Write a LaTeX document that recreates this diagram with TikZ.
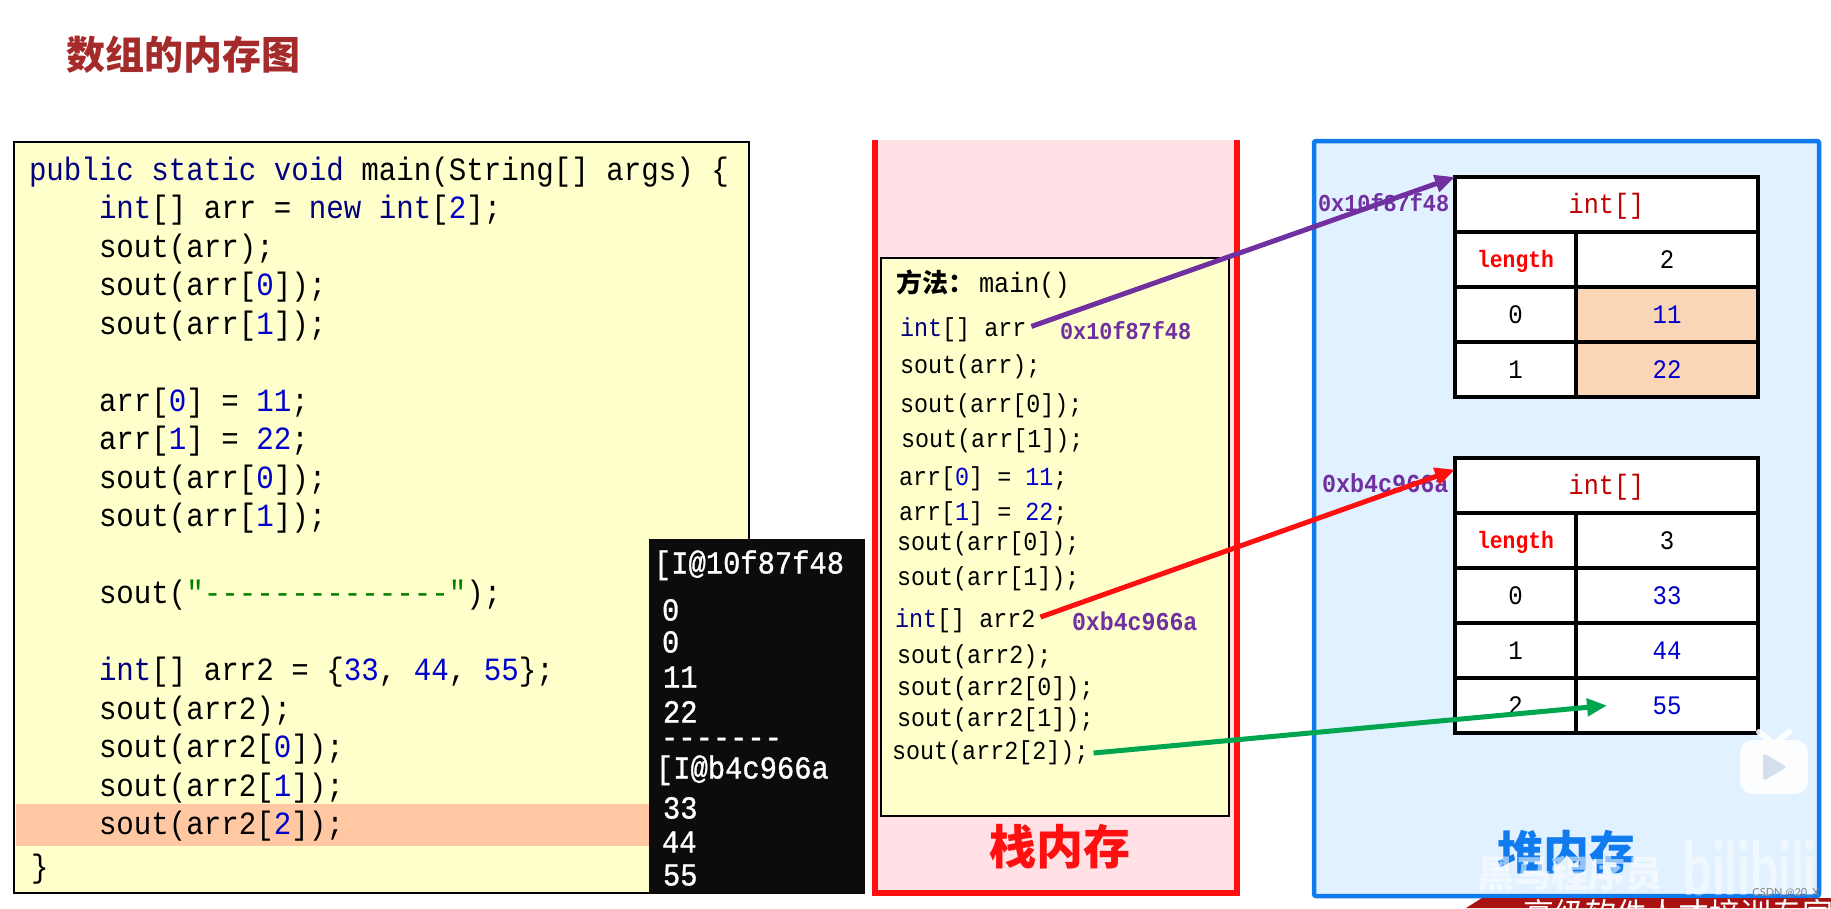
\documentclass[tikz,border=0pt]{standalone}
\usepackage{fontspec}
\usetikzlibrary{positioning}
\usetikzlibrary{arrows.meta}

\newfontfamily\cjkfont{Noto Sans CJK SC}
\newfontfamily\monofont[FakeStretch=0.9]{Liberation Mono}
\newfontfamily\consolefont[FakeStretch=0.9,FakeBold=1]{Liberation Mono}
\newfontfamily\sansfont{Lato}

\definecolor{titlered}{HTML}{A52A2A}
\definecolor{codeyellow}{HTML}{FFFFCC}
\definecolor{lineorange}{HTML}{FFC8A2}
\definecolor{kwnavy}{HTML}{000080}
\definecolor{numblue}{HTML}{0000CC}
\definecolor{strgreen}{HTML}{008000}
\definecolor{consoleblack}{HTML}{0C0C0C}
\definecolor{stackred}{HTML}{FF1010}
\definecolor{stackpink}{HTML}{FFE1E6}
\definecolor{heapblue}{HTML}{0F7BEF}
\definecolor{heapfill}{HTML}{E2F1FF}
\definecolor{cellorange}{HTML}{FBD6B6}
\definecolor{addrpurple}{HTML}{7030A0}
\definecolor{typered}{HTML}{C00000}
\definecolor{flowgreen}{HTML}{00A550}
\definecolor{bannerred}{HTML}{A81212}

\newcommand{\kw}[1]{\textcolor{kwnavy}{#1}}
\newcommand{\nm}[1]{\textcolor{numblue}{#1}}

\tikzset{
	codeline/.style={anchor=west, inner sep=0pt, text height=24pt, text depth=7pt, font=\monofont\fontsize{32.4}{38}\selectfont},
	stackline/.style={anchor=west, inner sep=5pt, text height=19pt, text depth=6pt, font=\monofont\fontsize{26}{30}\selectfont},
	consoleline/.style={anchor=west, inner sep=0pt, text=white, text height=24pt, text depth=7pt, font=\consolefont\fontsize{32}{38}\selectfont},
	addr/.style={anchor=west, inner sep=0pt, text=addrpurple, font=\monofont\bfseries\fontsize{#1}{30}\selectfont},
	headcell/.style={draw=black, fill=white, line width=4pt, inner sep=0pt, minimum width=303pt, minimum height=55pt, text=typered, text height=21pt, text depth=3.5pt, font=\monofont\fontsize{28}{30}\selectfont},
	idxcell/.style={draw=black, fill=white, line width=4pt, inner sep=0pt, minimum width=121pt, minimum height=55pt, font=\monofont\fontsize{26.7}{30}\selectfont},
	valcell/.style={idxcell, minimum width=182pt},
	lencell/.style={idxcell, text=red, text height=16.5pt, text depth=0pt, font=\monofont\bfseries\fontsize{23.7}{28}\selectfont},
	flow/.style={line width=5pt, -{Triangle[length=20pt,width=17pt]}},
}

\begin{document}
\begin{tikzpicture}[x=1pt, y=-1pt, outer sep=0pt]
	\useasboundingbox (0,0) rectangle (1831,908);
	
	\node[anchor=west, inner sep=0pt, text=titlered, font=\cjkfont\bfseries\fontsize{39}{44}\selectfont] (title) at (66,55) {数组的内存图};
	
	% code
	\node[draw=black, fill=codeyellow, line width=2.5pt, anchor=north west, inner sep=0pt, minimum width=735pt, minimum height=751pt] (codebox) at (14,142) {};
	\node[fill=lineorange, anchor=north west, inner sep=0pt, minimum width=640pt, minimum height=42pt] (hiline) at (16,804) {};
	\foreach \idx/\xx/\yy/\txt in {
		1/29/172/{\kw{public static void} main(String[] args) \{},
		2/99/210/{\kw{int}[] arr = \kw{new} \kw{int}[\nm{2}];},
		3/99/249/{sout(arr);},
		4/99/287/{sout(arr[\nm{0}]);},
		5/99/326/{sout(arr[\nm{1}]);},
		7/99/403/{arr[\nm{0}] = \nm{11};},
		8/99/441/{arr[\nm{1}] = \nm{22};},
		9/99/480/{sout(arr[\nm{0}]);},
		10/99/518/{sout(arr[\nm{1}]);},
		12/99/595/{sout(\textcolor{strgreen}{"--------------"});},
		14/99/672/{\kw{int}[] arr2 = \{\nm{33}, \nm{44}, \nm{55}\};},
		15/99/711/{sout(arr2);},
		16/99/749/{sout(arr2[\nm{0}]);},
		17/99/788/{sout(arr2[\nm{1}]);},
		18/99/826/{sout(arr2[\nm{2}]);},
		19/31/869/{\}}}
		\node[codeline] (code\idx) at (\xx,\yy) {\txt};
	
	% console
	\node[fill=consoleblack, anchor=north west, inner sep=0pt, minimum width=216pt, minimum height=355pt] (console) at (649,539) {};
	\foreach \idx/\xx/\yy/\txt in {
		1/654/565/{[I@10f87f48},
		2/662/612/{0},
		3/662/644/{0},
		4/663/679/{11},
		5/663/714/{22},
		6/661/739/{-------},
		7/656/770/{[I@b4c966a},
		8/663/810/{33},
		9/662/844/{44},
		10/663/877/{55}}
		\node[consoleline] (out\idx) at (\xx,\yy) {\txt};
	
	% stack
	\node[fill=stackpink, anchor=north west, inner sep=0pt, minimum width=362pt, minimum height=753pt] (stack) at (875,140) {};
	\draw[stackred, line width=6pt] (stack.north west) -- (stack.south west) -- (stack.south east) -- (stack.north east);
	\node[draw=black, fill=codeyellow, line width=2pt, anchor=north west, inner sep=0pt, minimum width=348pt, minimum height=558pt] (frame) at (881,258) {};
	\node[anchor=west, inner sep=0pt, font=\cjkfont\bfseries\fontsize{26}{30}\selectfont] (method) at (896,284) {方法：\hspace{5pt}{\monofont\mdseries\fontsize{28}{30}\selectfont main()}};
	\foreach \idx/\xx/\yy/\txt in {
		1/895/330/{\kw{int}[] arr},
		2/895/367/{sout(arr);},
		3/895/406/{sout(arr[0]);},
		4/896/441/{sout(arr[1]);},
		5/894/479/{arr[\nm{0}] = \nm{11};},
		6/894/514/{arr[\nm{1}] = \nm{22};},
		7/892/544/{sout(arr[0]);},
		8/892/579/{sout(arr[1]);},
		9/890/621/{\kw{int}[] arr2},
		10/892/657/{sout(arr2);},
		11/892/689/{sout(arr2[0]);},
		12/892/720/{sout(arr2[1]);},
		13/887/753/{sout(arr2[2]);}}
		\node[stackline] (frm\idx) at (\xx,\yy) {\txt};
	\node[addr=24.3] (addr1) at (1060,331) {0x10f87f48};
	\node[addr=25.8] (addr2) at (1072,621) {0xb4c966a};
	\node[text=stackred, inner sep=0pt, font=\cjkfont\bfseries\fontsize{47}{52}\selectfont] (stacklabel) at (1060,847) {栈内存};
	
	% heap
	\node[draw=heapblue, fill=heapfill, line width=4.5pt, rounded corners=2pt, anchor=north west, inner sep=0pt, minimum width=505pt, minimum height=755pt] (heap) at (1314,141) {};
	\node[text=heapblue, inner sep=0pt, font=\cjkfont\bfseries\fontsize{46}{52}\selectfont] (heaplabel) at (1566,852) {堆内存};
	
	% first array
	\node[headcell] (head1) at (1606.5,204.5) {int[]};
	\node[lencell, anchor=north west] (len1) at (head1.south west) {length};
	\node[valcell, right=0pt of len1] (size1) {2};
	\foreach \idx/\prev/\val in {0/len1/11, 1/p0/22} {
		\node[idxcell, below=0pt of \prev] (p\idx) {\idx};
		\node[valcell, fill=cellorange, text=numblue, right=0pt of p\idx] (v\idx) {\val};
	}
	
	% second array
	\node[headcell] (head2) at (1606.5,485.5) {int[]};
	\node[lencell, anchor=north west] (len2) at (head2.south west) {length};
	\node[valcell, right=0pt of len2] (size2) {3};
	\foreach \idx/\prev/\val in {0/len2/33, 1/q0/44, 2/q1/55} {
		\node[idxcell, below=0pt of \prev] (q\idx) {\idx};
		\node[valcell, text=numblue, right=0pt of q\idx] (w\idx) {\val};
	}
	\node[addr=24.3] (addr3) at (1318,203) {0x10f87f48};
	\node[addr=26] (addr4) at (1322,483) {0xb4c966a};
	
	% references
	\coordinate[right=31pt of w2.west] (tip55);
	\draw[flow, addrpurple] (frm1.3) -- (head1.north west);
	\draw[flow, stackred] (frm9.3) -- (head2.174);
	\draw[flow, flowgreen] (frm13.east) -- (tip55);
	
	% video overlay
	\node[fill=white, opacity=.9, rounded corners=13pt, inner sep=0pt, minimum width=68pt, minimum height=54pt] (player) at (1774,767) {};
	\coordinate (earl) at (1759,732);
	\coordinate (earr) at (1789,732);
	\draw[white, opacity=.9, line width=6pt, line cap=round] (earl) -- (player.100);
	\draw[white, opacity=.9, line width=6pt, line cap=round] (earr) -- (player.80);
	\fill[heapfill!85!gray, rounded corners=3pt] (1763,753) -- (1787,767) -- (1763,781) -- cycle;
	\node[text=white, opacity=.55, inner sep=0pt, font=\cjkfont\bfseries\fontsize{37}{42}\selectfont] (brand) at (1570,873) {黑马程序员};
	\node[text=white, opacity=.45, yscale=1.5, inner sep=0pt, font=\sansfont\bfseries\fontsize{50}{54}\selectfont] (bili) at (1750,868) {bilibili};
	\node[text=gray, inner sep=0pt, font=\sansfont\fontsize{11}{12}\selectfont] (csdn) at (1786,893) {CSDN @20\_X};
	
	% banner
	\fill[bannerred] (1466,908) -- (1482,898) -- (1831,898) -- (1831,908) -- cycle;
	\begin{scope}
		\clip (1466,898) rectangle (1831,908);
		\node[anchor=west, text=white, inner sep=0pt, font=\cjkfont\fontsize{31}{34}\selectfont] (slogan) at (1523,914) {高级软件人才培训专家};
	\end{scope}
\end{tikzpicture}
\end{document}
